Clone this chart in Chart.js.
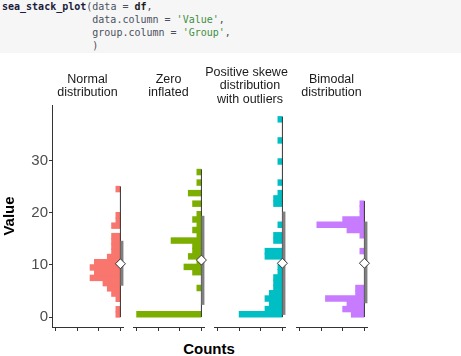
<!DOCTYPE html>
<html>
<head>
<meta charset="utf-8">
<script src="https://cdn.jsdelivr.net/npm/chart.js@4.4.0/dist/chart.umd.min.js"></script>
<style>
html, body { margin: 0; padding: 0; background: #fff; }
#wrap { position: relative; width: 461px; height: 356px; overflow: hidden; font-family: 'Liberation Sans', Arial, sans-serif; }
#code { position: absolute; left: 0; top: 0; width: 459px; height: 53px; padding-left: 2px; background: #f6f6f6;
        font-family: 'DejaVu Sans Mono', monospace; font-size: 10px; line-height: 13px; white-space: pre; color: #4a5060; }
#code .fn { font-weight: bold; color: #1b1b3a; }
#code .obj { font-weight: bold; color: #1b1b1b; }
#code .str { color: #3f8f3f; }
.strip { position: absolute; width: 120px; text-align: center; font-size: 12.5px; line-height: 13.3px; color: #1a1a1a; white-space: nowrap; }
canvas { position: absolute; }
#counts { position: absolute; left: 149px; top: 340px; width: 120px; text-align: center; font-size: 15px; font-weight: bold; line-height: 18px; color: #000; }
</style>
</head>
<body>
<div id="wrap">
  <div id="code"><span class="fn">sea_stack_plot</span>(data = <span class="obj">df</span>,
               data.column = <span class="str">'Value'</span>,
               group.column = <span class="str">'Group'</span>,
               )</div>
  <canvas id="p0" width="131" height="245"></canvas>
  <canvas id="p1" width="87" height="245"></canvas>
  <canvas id="p2" width="87" height="245"></canvas>
  <canvas id="p3" width="87" height="245"></canvas>
  <div id="counts">Counts</div>
</div>
<script>
// facet titles (one entry per line)
const panelTitles = [
    ['Normal', 'distribution'],
    ['Zero', 'inflated'],
    ['Positive skewe', 'distribution', 'with outliers'],
    ['Bimodal', 'distribution']
];

// histogram bins (value axis), width 1
const binCenters = [0.5, 1.5, 2.5, 3.5, 4.5, 5.5, 6.5, 7.5, 8.5, 9.5,
    10.5, 11.5, 12.5, 13.5, 14.5, 15.5, 16.5, 17.5, 18.5, 19.5,
    20.5, 21.5, 22.5, 23.5, 24.5, 25.5, 26.5, 27.5, 28.5, 29.5,
    30.5, 31.5, 32.5, 33.5, 34.5, 35.5, 36.5, 37.5];

const normalCounts = [1, 1, 0, 1, 2, 3, 4, 7, 6, 7,
    6, 3, 2, 2, 2, 2, 0, 2, 1, 1,
    0, 0, 0, 0, 1, 0, 0, 0, 0, 0,
    0, 0, 0, 0, 0, 0, 0, 0];
const zeroCounts = [15, 0, 0, 0, 0, 1, 0, 0, 2, 4,
    1, 3, 2, 2, 7, 1, 2, 1, 2, 1,
    0, 2, 0, 3, 0, 1, 0, 1, 0, 0,
    0, 0, 0, 0, 0, 0, 0, 0];
const skewCounts = [10, 4, 3, 4, 3, 2, 2, 2, 1, 1,
    0, 4, 4, 0, 2, 2, 0, 1, 0, 0,
    0, 2, 2, 1, 0, 1, 0, 0, 0, 1,
    0, 0, 0, 1, 0, 0, 0, 1];
const bimodalCounts = [3, 5, 4, 9, 2, 2, 0, 0, 0, 0,
    0, 0, 1, 0, 0, 1, 4, 11, 5, 1,
    1, 1, 0, 0, 0, 0, 0, 0, 0, 0,
    0, 0, 0, 0, 0, 0, 0, 0];

// summary shown beside each histogram: grey range and diamond
const boxLow = [6.0, 2.3, 0.4, 2.6];
const boxHigh = [14.6, 19.2, 20.0, 18.1];
const centerValues = [10.2, 10.8, 10.2, 10.2];

const yTicks = [0, 10, 20, 30];
const xTicks = [0, 5, 10, 15];

const panelCounts = [normalCounts, zeroCounts, skewCounts, bimodalCounts];
const panelColors = ['#F8766D', '#7CAE00', '#00BFC4', '#C77CFF'];

const panelLeft = [52, 133, 214, 296];
const titleCenters = [87.5, 168.5, 250, 331.5];

let charts = {};

function addTitles() {
    const wrap = document.getElementById('wrap');
    panelTitles.forEach((lines, i) => {
        const div = document.createElement('div');
        div.className = 'strip';
        div.style.left = (titleCenters[i] - 60) + 'px';
        div.style.top = (86 - lines.length * 13.3 / 2) + 'px';
        div.innerHTML = lines.map((t, j) => {
            // first line of the third title is cut at the strip edge
            if (i === 2 && j === 0) {
                return '<span style="position:relative;left:-3.5px">' + t + '</span>';
            }
            return t;
        }).join('<br>');
        wrap.appendChild(div);
    });
}

function makePanel(i) {
    const counts = panelCounts[i];
    const canvas = document.getElementById('p' + i);
    const first = i === 0;
    canvas.style.left = (first ? 0 : panelLeft[i] - 8) + 'px';
    canvas.style.top = '95px';

    let topValue = 0;
    counts.forEach((c, j) => {
        if (c > 0) topValue = binCenters[j] + 0.5;
    });

    const yScale = {
        type: 'linear',
        display: first,
        offset: false,
        min: -1.9,
        max: 40.6,
        afterBuildTicks: (scale) => { scale.ticks = yTicks.map(v => ({ value: v })); },
        ticks: {
            color: '#4d4d4d',
            padding: 1,
            font: { family: "'Liberation Sans', Arial, sans-serif", size: 15 }
        },
        grid: { display: true, offset: false, drawOnChartArea: false, drawTicks: true, tickLength: 3, color: '#333333' },
        border: { display: true, color: '#333333', width: 1 },
        title: {
            display: true,
            text: 'Value',
            color: '#000000',
            padding: { top: 0.5, bottom: 0 },
            font: { family: "'Liberation Sans', Arial, sans-serif", size: 15, weight: 'bold' }
        }
    };
    if (first) {
        yScale.afterFit = (scale) => { scale.width = 52; };
    }

    charts['p' + i] = new Chart(canvas, {
        type: 'bar',
        data: {
            datasets: [
                {
                    type: 'line',
                    data: [{ x: 0, y: centerValues[i] }],
                    showLine: false,
                    pointStyle: 'rectRot',
                    pointRadius: 5,
                    pointBackgroundColor: '#ffffff',
                    pointBorderColor: '#333333',
                    pointBorderWidth: 1,
                    clip: false,
                    order: 0
                },
                {
                    type: 'line',
                    data: [{ x: -0.35, y: boxLow[i] }, { x: -0.35, y: boxHigh[i] }],
                    borderColor: '#808080',
                    borderWidth: 3,
                    borderCapStyle: 'butt',
                    pointRadius: 0,
                    clip: false,
                    order: 1
                },
                {
                    type: 'line',
                    data: [{ x: 0, y: 0 }, { x: 0, y: topValue }],
                    borderColor: '#333333',
                    borderWidth: 1,
                    pointRadius: 0,
                    clip: false,
                    order: 2
                },
                {
                    type: 'bar',
                    data: binCenters.map((c, j) => ({ x: counts[j] > 0 ? counts[j] : null, y: c })),
                    backgroundColor: panelColors[i],
                    borderWidth: 0,
                    barPercentage: 1,
                    categoryPercentage: 1,
                    inflateAmount: 0.6,
                    order: 3
                }
            ]
        },
        options: {
            indexAxis: 'y',
            responsive: false,
            animation: false,
            devicePixelRatio: 1,
            layout: {
                autoPadding: false,
                padding: { left: first ? 0 : 8, right: 8, top: 8, bottom: 0 }
            },
            plugins: {
                legend: { display: false },
                tooltip: { enabled: false }
            },
            scales: {
                x: {
                    type: 'linear',
                    reverse: true,
                    offset: false,
                    min: -0.6,
                    max: 15.9,
                    afterBuildTicks: (scale) => { scale.ticks = xTicks.map(v => ({ value: v })); },
                    afterFit: (scale) => { scale.height = 13; },
                    ticks: { display: false },
                    grid: { display: true, drawOnChartArea: false, drawTicks: true, tickLength: 4, color: '#333333' },
                    border: { display: true, color: '#333333', width: 1 }
                },
                y: yScale
            }
        }
    });
}

addTitles();
[0, 1, 2, 3].forEach(makePanel);
</script>
</body>
</html>
